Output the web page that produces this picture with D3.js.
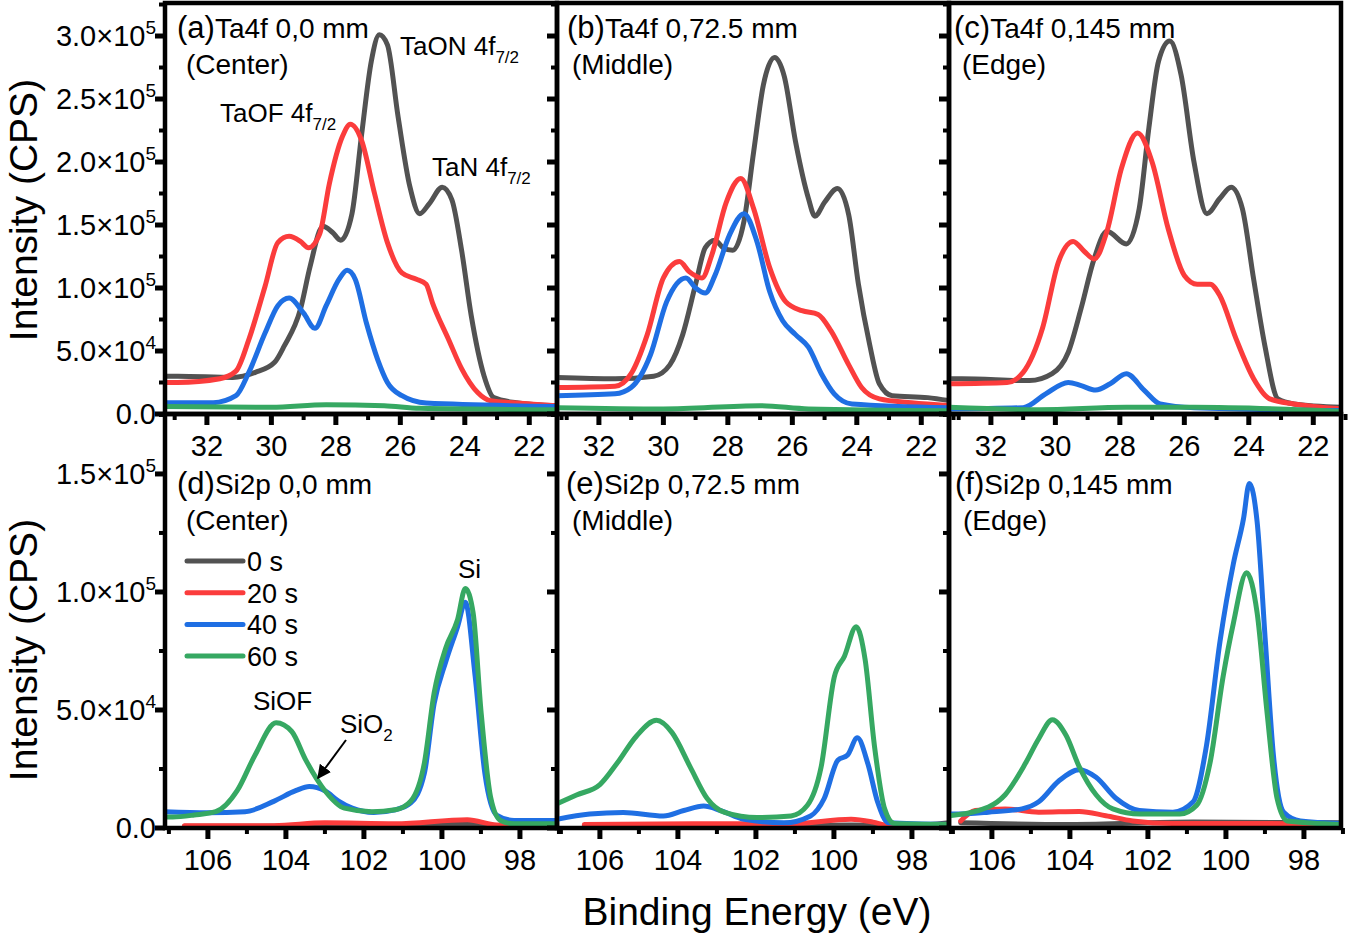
<!DOCTYPE html>
<html>
<head>
<meta charset="utf-8">
<script src="https://cdn.jsdelivr.net/npm/d3@7"></script>
<style>
  body { margin: 0; background: #fff; }
  svg { display: block; }
  text { font-family: "Liberation Sans", Arial, sans-serif; fill: #000; }
</style>
</head>
<body>
<div id="chart"></div>
<script>
// ---------------------------------------------
// XPS depth profile panels: Ta4f (top) / Si2p (bottom)
// values are [binding energy eV, intensity in kCPS]
// ---------------------------------------------

const etchTimes = ["0 s", "20 s", "40 s", "60 s"];
const seriesColors = ["#525252", "#fb3c3c", "#1f6fe3", "#36a862"];

const taEnergyTicks = [32, 30, 28, 26, 24, 22];
const siEnergyTicks = [106, 104, 102, 100, 98];
const taIntensityTicks = [0, 50, 100, 150, 200, 250, 300];
const siIntensityTicks = [0, 50, 100, 150];

// (a) Ta4f 0,0 mm
const taCenter0s = [[33.3,30],[32.9,30],[31.2,29],[30.5,33],[29.9,41],[29.6,54],[29.1,83],[28.8,117],[28.4,149],[28.1,144],[27.85,138],[27.5,159],[27.2,222],[26.9,280],[26.65,301],[26.4,293],[26.07,236],[25.7,180],[25.4,159],[25.1,167],[24.7,180],[24.4,170],[24.1,130],[23.8,78],[23.4,30],[23.1,13],[22.4,9],[21.1,6.5]];
const taCenter20s = [[33.3,25],[32.9,25],[31.6,28],[31.1,34],[30.7,59],[30.2,101],[29.8,136],[29.45,141],[29.1,137],[28.85,132],[28.5,143],[28.2,183],[27.8,220],[27.55,230],[27.2,217],[26.8,175],[26.4,136],[25.95,112],[25.5,107],[25.2,103],[25.0,88],[24.5,59],[24.1,36],[23.6,17],[23.2,10.5],[22.4,8.7],[21.1,6.5]];
const taCenter40s = [[33.3,9],[31.8,9],[31.1,14.5],[30.7,33],[30.2,64],[29.8,86],[29.45,92],[29.0,80],[28.65,68],[28.3,86],[27.9,107],[27.65,114],[27.4,107],[27.05,72],[26.7,43],[26.4,25],[25.95,14.5],[25.2,8.7],[21.1,6]];
const taCenter60s = [[33.3,6],[30.0,5.3],[28.3,7.4],[26.5,6.6],[25.4,4.5],[21.1,3.4]];

// (b) Ta4f 0,72.5 mm
const taMiddle0s = [[33.3,29],[31.5,28],[30.3,30],[29.8,39],[29.4,63],[29.0,103],[28.7,132],[28.4,138],[28.15,132],[27.85,130],[27.5,153],[27.2,208],[26.9,261],[26.55,283],[26.25,268],[25.9,216],[25.5,171],[25.3,157],[25.0,168],[24.6,179],[24.25,158],[23.95,103],[23.6,55],[23.3,24],[22.9,14.5],[21.8,13],[21.1,10.5]];
const taMiddle20s = [[33.3,21],[31.5,22],[31.0,32],[30.5,63],[30.0,108],[29.5,121],[29.2,113],[28.8,108],[28.5,126],[28.05,168],[27.6,187],[27.2,163],[26.7,116],[26.2,89],[25.7,82],[25.2,79],[24.8,66],[24.25,39],[23.85,21],[23.3,12],[22.3,9],[21.1,6.6]];
const taMiddle40s = [[33.3,14.5],[31.5,16],[31.0,21],[30.4,47],[29.9,89],[29.3,108],[29.0,100],[28.7,96],[28.4,110],[27.95,142],[27.5,159],[27.1,137],[26.7,97],[26.3,74],[25.9,63],[25.5,53],[25.1,32],[24.7,16],[24.15,8],[21.1,5]];
const taMiddle60s = [[33.3,5],[30.0,4],[27.0,6.6],[25.5,4],[21.1,2.6]];

// (c) Ta4f 0,145 mm
const taEdge0s = [[33.3,28],[32.9,28],[30.8,26.5],[30.1,32],[29.6,49],[29.2,84],[28.8,123],[28.4,145],[27.8,135],[27.4,163],[27.1,227],[26.8,280],[26.45,296],[26.1,269],[25.7,200],[25.3,159],[24.9,171],[24.55,180],[24.2,163],[23.85,107],[23.5,54],[23.1,12],[22.6,8],[21.1,5.3]];
const taEdge20s = [[33.3,24],[31.5,25],[31.0,33],[30.4,68],[29.9,121],[29.45,137],[29.1,129],[28.8,123],[28.4,145],[27.95,195],[27.45,223],[27.0,200],[26.5,147],[26.0,110],[25.6,103],[25.2,103],[24.9,94],[24.4,60],[23.85,28],[23.35,12],[22.6,8],[21.1,4]];
const taEdge40s = [[33.3,4],[31.0,5],[30.3,16],[29.6,25],[29.2,22.5],[28.75,19],[28.3,24],[27.8,32],[27.25,19],[26.75,8],[25.7,5],[21.1,2.7]];
const taEdge60s = [[33.3,5.3],[30.5,3.4],[27.8,5.3],[25.7,5.3],[21.1,2]];

// (d) Si2p 0,0 mm
const siCenter0s = [[106.6,0.7],[104.0,0.8],[101.2,1.3],[99.35,1.8],[98.5,0.6],[97.05,0.6]];
const siCenter20s = [[106.6,1.0],[104.3,1.0],[103.0,2.2],[101.2,1.8],[99.35,3.5],[98.6,1.3],[97.05,0.8]];
const siCenter40s = [[107.1,6.9],[106.0,6.5],[105.05,6.9],[104.3,11.4],[103.75,15.8],[103.4,17.6],[103.0,15.8],[102.65,11.4],[102.3,8.4],[101.75,6.6],[101.2,7.7],[100.8,10.6],[100.45,23.2],[100.2,52.7],[99.9,70.5],[99.6,85.2],[99.4,95.6],[99.15,64.5],[98.9,23.2],[98.6,5.5],[98.15,3.2],[97.05,3.2]];
const siCenter60s = [[107.1,4.7],[106.9,4.7],[106.35,5.5],[105.8,6.9],[105.25,15.8],[104.8,30.6],[104.25,44.6],[103.85,40.9],[103.5,29.1],[103.0,15.8],[102.5,8.4],[101.8,6.9],[101.2,7.7],[100.8,11.4],[100.45,27.6],[100.2,57.2],[99.9,76.4],[99.6,88.2],[99.4,101.5],[99.2,91.1],[99.0,49.8],[98.75,12.9],[98.5,3.2],[98.15,1.8],[97.05,1.8]];

// (e) Si2p 0,72.5 mm
const siMiddle0s = [[106.4,0.7],[102.5,0.8],[99.56,1.3],[98.0,1.0],[97.05,2.2]];
const siMiddle20s = [[106.4,1.5],[103.6,1.8],[101.1,1.8],[99.56,3.7],[99.0,2.5],[98.6,1.0],[97.05,1.5]];
const siMiddle40s = [[107.1,3.7],[106.26,5.9],[105.4,6.6],[104.37,5.1],[103.85,7.4],[103.34,9.3],[102.9,7.4],[102.3,3.7],[101.28,2.2],[100.6,5.1],[100.25,12.5],[99.9,28.7],[99.65,30.9],[99.4,38.2],[99.13,27.2],[98.88,11.0],[98.6,2.2],[97.05,1.5]];
const siMiddle60s = [[107.1,10.3],[106.6,14.0],[106.0,18.4],[105.57,27.2],[105.06,39.0],[104.55,45.6],[104.15,40.4],[103.68,25.7],[103.25,12.5],[102.8,6.6],[101.97,4.4],[101.1,5.1],[100.68,9.6],[100.33,25.7],[99.99,64.0],[99.73,72.8],[99.43,85.3],[99.2,71.3],[98.96,34.6],[98.7,8.1],[98.45,1.9],[97.05,1.5]];

// (f) Si2p 0,145 mm
const siEdge0s = [[106.8,2.2],[104.0,1.5],[100.84,2.5],[97.05,2.2]];
const siEdge20s = [[106.8,3.0],[106.43,7.4],[105.66,8.1],[104.8,6.7],[103.76,7.0],[103.08,5.2],[102.39,3.0],[101.36,1.9],[99.2,1.9],[97.05,1.5]];
const siEdge40s = [[107.1,5.9],[106.95,5.9],[106.09,6.7],[105.23,8.1],[104.8,11.1],[104.28,20.0],[103.76,24.7],[103.33,21.5],[102.82,12.6],[102.22,7.4],[101.36,6.7],[100.84,11.1],[100.5,34.8],[100.15,79.3],[99.81,111.9],[99.55,131],[99.4,146],[99.2,129.6],[98.99,79.3],[98.78,30.4],[98.52,6.7],[98.09,3.0],[97.05,1.9]];
const siEdge60s = [[107.1,5.2],[106.09,8.9],[105.66,14.1],[105.14,27.4],[104.8,37.8],[104.45,45.9],[104.1,39.3],[103.76,25.9],[103.33,14.1],[102.9,8.1],[102.2,5.9],[101.18,5.9],[100.75,9.6],[100.41,27.4],[100.07,64.4],[99.81,86.7],[99.47,108.1],[99.2,91.1],[98.95,49.6],[98.69,12.6],[98.43,3.0],[97.05,1.5]];

const panelTitles = [
  ["(a)", "Ta4f 0,0 mm", "(Center)"],
  ["(b)", "Ta4f 0,72.5 mm", "(Middle)"],
  ["(c)", "Ta4f 0,145 mm", "(Edge)"],
  ["(d)", "Si2p 0,0 mm", "(Center)"],
  ["(e)", "Si2p 0,72.5 mm", "(Middle)"],
  ["(f)", "Si2p 0,145 mm", "(Edge)"]
];

// ------------------
// Layout
// ------------------
const width = 1348, height = 940;
const plotLeft = 165, panelW = 392;
const rowTop = [3, 414], rowBottom = [414, 828];

const svg = d3.select("#chart").append("svg")
  .attr("width", width)
  .attr("height", height);

const xTa = d3.scaleLinear().domain([33.3, 21.14]).range([0, panelW]);
const xSi = d3.scaleLinear().domain([107.1, 97.05]).range([0, panelW]);
const yTa = d3.scaleLinear().domain([0, 326.2]).range([rowBottom[0], rowTop[0]]);
const ySi = d3.scaleLinear().domain([0, 175.4]).range([rowBottom[1], rowTop[1]]);

const rows = [
  { x: xTa, y: yTa, xTicks: taEnergyTicks, yTicks: taIntensityTicks, minorX: d3.range(21, 34, 2), minorY: d3.range(25, 326, 50),
    series: [[taCenter0s, taCenter20s, taCenter40s, taCenter60s],
             [taMiddle0s, taMiddle20s, taMiddle40s, taMiddle60s],
             [taEdge0s, taEdge20s, taEdge40s, taEdge60s]] },
  { x: xSi, y: ySi, xTicks: siEnergyTicks, yTicks: siIntensityTicks, minorX: d3.range(97, 108, 2), minorY: d3.range(25, 176, 50),
    series: [[siCenter0s, siCenter20s, siCenter40s, siCenter60s],
             [siMiddle0s, siMiddle20s, siMiddle40s, siMiddle60s],
             [siEdge0s, siEdge20s, siEdge40s, siEdge60s]] }
];

// superscript label like 1.5x10^5
function sciLabel(sel, v) {
  if (v === 0) { sel.text("0.0"); return; }
  const cps = v * 1000;
  const e = Math.floor(Math.log10(cps));
  const m = (cps / Math.pow(10, e)).toFixed(1);
  sel.append("tspan").text(`${m}\u00d710`);
  sel.append("tspan").attr("dy", -12).attr("font-size", 19).text(e);
}

const defs = svg.append("defs");
defs.append("marker")
  .attr("id", "arrowHead")
  .attr("viewBox", "0 0 10 10")
  .attr("refX", 9).attr("refY", 5)
  .attr("markerWidth", 7).attr("markerHeight", 7)
  .attr("markerUnits", "strokeWidth")
  .attr("orient", "auto")
  .append("path").attr("d", "M0,0 L10,5 L0,10 z").attr("fill", "#000");

rows.forEach((row, r) => {
  const y0 = rowTop[r], y1 = rowBottom[r];

  row.series.forEach((panelSeries, p) => {
    const px = plotLeft + p * panelW;
    const g = svg.append("g").attr("transform", `translate(${px},0)`);

    defs.append("clipPath").attr("id", `clip-${r}-${p}`)
      .append("rect").attr("x", 0).attr("y", y0).attr("width", panelW).attr("height", y1 - y0);

    // panel titles (drawn under the curves)
    const t = panelTitles[r * 3 + p];
    const title = g.append("text")
      .attr("x", r === 0 ? (p === 0 ? 12 : p === 1 ? 10 : 5) : (p === 0 ? 12 : p === 1 ? 9 : 6))
      .attr("y", y0 + 35 + (r === 1 ? 45 : 0))
      .attr("font-size", 28);
    title.append("tspan").attr("font-size", 31).text(t[0]);
    title.append("tspan").text(t[1]);
    g.append("text")
      .attr("x", r === 0 ? (p === 2 ? 13 : p === 1 ? 15 : 21) : (p === 2 ? 14 : p === 1 ? 15 : 21))
      .attr("y", y0 + 71 + (r === 1 ? 45 : 0))
      .attr("font-size", 28)
      .text(t[2]);

    // curves
    const line = d3.line()
      .x(d => row.x(d[0]))
      .y(d => row.y(d[1]))
      .curve(d3.curveMonotoneX);

    g.append("g").attr("clip-path", `url(#clip-${r}-${p})`)
      .selectAll("path")
      .data(panelSeries)
      .enter().append("path")
      .attr("d", line)
      .attr("fill", "none")
      .attr("stroke", (d, i) => seriesColors[i])
      .attr("stroke-width", 5)
      .attr("stroke-linejoin", "round")
      .attr("stroke-linecap", "round");

    // left axis ticks (outward), labels only on the first panel
    g.selectAll(null).data(row.yTicks).enter().append("line")
      .attr("x1", -10).attr("x2", 0)
      .attr("y1", d => row.y(d)).attr("y2", d => row.y(d))
      .attr("stroke", "#000").attr("stroke-width", 5);
    g.selectAll(null).data(row.minorY).enter().append("line")
      .attr("x1", -6).attr("x2", 0)
      .attr("y1", d => row.y(d)).attr("y2", d => row.y(d))
      .attr("stroke", "#000").attr("stroke-width", 4);

    if (p === 0) {
      g.selectAll(null).data(row.yTicks).enter().append("text")
        .attr("x", -9)
        .attr("y", d => row.y(d) + 10)
        .attr("text-anchor", "end")
        .attr("font-size", 29)
        .each(function (d) { sciLabel(d3.select(this), d); });
    }

    // bottom axis ticks (outward) and labels
    g.selectAll(null).data(row.xTicks).enter().append("line")
      .attr("x1", d => row.x(d)).attr("x2", d => row.x(d))
      .attr("y1", y1).attr("y2", y1 + 11)
      .attr("stroke", "#000").attr("stroke-width", 5);
    g.selectAll(null).data(row.minorX).enter().append("line")
      .attr("x1", d => row.x(d)).attr("x2", d => row.x(d))
      .attr("y1", y1).attr("y2", y1 + 6)
      .attr("stroke", "#000").attr("stroke-width", 4);
    g.selectAll(null).data(row.xTicks).enter().append("text")
      .attr("x", d => row.x(d))
      .attr("y", y1 + 42)
      .attr("text-anchor", "middle")
      .attr("font-size", 29)
      .text(d => d);

    // frame
    g.append("rect")
      .attr("x", 0).attr("y", y0)
      .attr("width", panelW).attr("height", y1 - y0)
      .attr("fill", "none").attr("stroke", "#000").attr("stroke-width", 4.5);
  });
});

// ------------------
// Peak annotations
// ------------------
function subLabel(x, y, main, sub) {
  const t = svg.append("text").attr("x", x).attr("y", y).attr("font-size", 26);
  t.append("tspan").text(main);
  if (sub) t.append("tspan").attr("dy", 8).attr("font-size", 17).text(sub);
}
subLabel(400, 55, "TaON 4f", "7/2");
subLabel(220, 122, "TaOF 4f", "7/2");
subLabel(432, 176, "TaN 4f", "7/2");
subLabel(253, 710, "SiOF");
subLabel(340, 733, "SiO", "2");
subLabel(458, 578, "Si");

svg.append("line")
  .attr("x1", 346).attr("y1", 740)
  .attr("x2", 318).attr("y2", 778)
  .attr("stroke", "#000").attr("stroke-width", 2)
  .attr("marker-end", "url(#arrowHead)");

// legend (panel d)
const legend = svg.append("g").attr("transform", "translate(187,561)");
etchTimes.forEach((lab, i) => {
  legend.append("line")
    .attr("x1", 0).attr("x2", 56)
    .attr("y1", i * 31.7).attr("y2", i * 31.7)
    .attr("stroke", seriesColors[i]).attr("stroke-width", 5)
    .attr("stroke-linecap", "round");
  legend.append("text")
    .attr("x", 60).attr("y", i * 31.7 + 10)
    .attr("font-size", 27)
    .text(lab);
});

// ------------------
// Axis titles
// ------------------
svg.append("text")
  .attr("transform", "translate(37,210) rotate(-90)")
  .attr("text-anchor", "middle")
  .attr("font-size", 39)
  .text("Intensity (CPS)");
svg.append("text")
  .attr("transform", "translate(37,650) rotate(-90)")
  .attr("text-anchor", "middle")
  .attr("font-size", 39)
  .text("Intensity (CPS)");
svg.append("text")
  .attr("x", 757).attr("y", 925)
  .attr("text-anchor", "middle")
  .attr("font-size", 39)
  .text("Binding Energy (eV)");
</script>
</body>
</html>
